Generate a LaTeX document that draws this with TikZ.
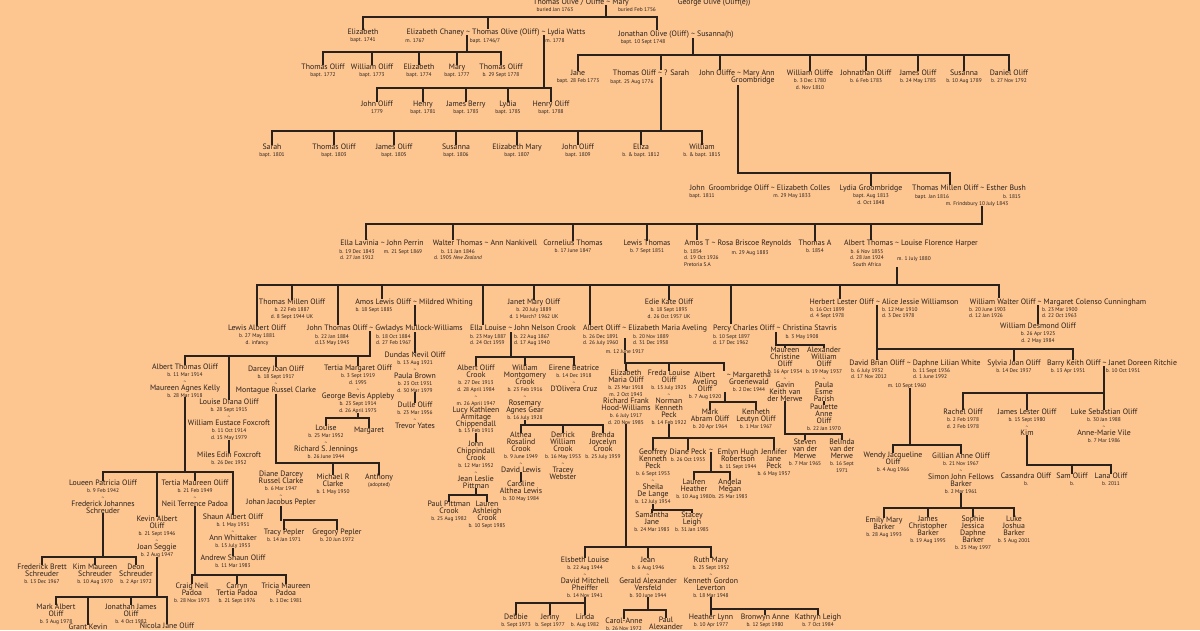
\documentclass[tikz,border=0pt]{standalone}
\usepackage{fontspec}
\setmainfont{PT Sans}
\definecolor{paper}{HTML}{FDC590}
\definecolor{ink}{HTML}{2A211C}
\tikzset{
  ln/.style={draw=ink,line width=1.05pt,line cap=rect},
  nm/.style={anchor=north,yshift=2.9pt,align=center,inner sep=0pt,text=ink,font={\fontsize{7.8}{6.9}\selectfont\lineskiplimit=-5pt}},
  dt/.style={anchor=north,yshift=2pt,align=center,inner sep=0pt,text=ink,font={\fontsize{5.4}{6.7}\selectfont\lineskiplimit=-5pt}},
  dl/.style={dt,anchor=north west,align=left},
}
\newcommand\sm[1]{{\fontsize{5.4}{6}\selectfont #1}}
\newcommand\wed{\textasciitilde}
% parent, bar y, bar left, bar right, children
\newcommand\brood[5]{%
  \draw[ln] (#1) -- (#1 |- 0,#2) (#3 |- 0,#2) -- (#4 |- 0,#2);
  \foreach \c in {#5}{\draw[ln] (\c) -- (\c |- 0,#2);}}
\begin{document}
\begin{tikzpicture}[x=1pt,y=-1pt]
\useasboundingbox (0,0) rectangle (1200,630);
\fill[paper] (0,0) rectangle (1200,630);

% Thomas Olive and Mary
\node[nm] (olive) at (581,2) {Thomas Olive / Oliffe \wed{} Mary};
\node[dt] (oliveb) at (555,9) {buried Jan 1763};
\node[dt] (maryb) at (637,9) {buried Feb 1756};
\node[nm] (george) at (714,2) {George Olive (Oliff(e))};
\coordinate (p0) at (606,6);

\node[nm] (eliz) at (363,32) {Elizabeth\\\sm{bapt. 1741}};
\node[nm] (chaney) at (496,32) {Elizabeth Chaney \wed{} Thomas Olive (Oliff) \wed{} Lydia Watts};
\node[dt] (chaneym) at (415,40) {m. 1767};
\node[dt] (tomb) at (485,40) {bapt. 1746/7};
\node[dt] (wattsm) at (555,40) {m. 1778};
\coordinate (tom) at (488,28);
\node[nm] (jonathan) at (676,34) {Jonathan Olive (Oliff) \wed{} Susanna(h)};
\node[dt] (jonathanb) at (643,41) {bapt. 10 Sept 1748};
\coordinate (jon) at (657,29);
\brood{p0}{17}{eliz}{jon}{eliz,tom,jon}

% with Elizabeth Chaney
\coordinate (pch) at (467,36);
\foreach \x/\who/\when/\id in {323/Thomas Oliff/bapt. 1772/ch1,372/William Oliff/bapt. 1773/ch2,419/Elizabeth/bapt. 1774/ch3,457/Mary/bapt. 1777/ch4,501/Thomas Oliff/b. 29 Sept 1778/ch5}
  \node[nm] (\id) at (\x,67) {\who\\\sm{\when}};
\brood{pch}{52}{ch1}{ch5}{ch1,ch2,ch3,ch4,ch5}

% with Lydia Watts
\coordinate (pwa) at (544,36);
\foreach \x/\who/\when/\id in {377/John Oliff/1779/wa1,423/Henry/bapt. 1781/wa2,466/James Berry/bapt. 1783/wa3,508/Lydia/bapt. 1785/wa4,551/Henry Oliff/bapt. 1788/wa5}
  \node[nm] (\id) at (\x,104) {\who\\\sm{\when}};
\brood{pwa}{88}{wa1}{wa5}{wa1,wa2,wa3,wa4,wa5}

% Jonathan and Susanna(h)
\coordinate (pjo) at (693,39);
\node[nm] (jane) at (578,73) {Jane\\\sm{bapt. 28 Feb 1773}};
\node[nm] (tsarah) at (651,73) {Thomas Oliff \wed{} ? Sarah};
\node[dt] (tsarahb) at (632,81) {bapt. 25 Aug 1776};
\coordinate (tos) at (661,69);
\node[nm,align=right] (joliffe) at (737,73) {John Oliffe \wed{} Mary Ann\\Groombridge};
\coordinate (jol) at (720,69);
\node[nm] (wol) at (810,73) {William Oliffe\\\sm{b. 3 Dec 1780}\\\sm{d. Nov 1810}};
\foreach \x/\who/\when/\id in {866/Johnathan Oliff/b. 6 Feb 1783/jo5,918/James Oliff/b. 24 May 1785/jo6,964/Susanna/b. 10 Aug 1789/jo7,1009/Daniel Oliff/b. 27 Nov 1792/jo8}
  \node[nm] (\id) at (\x,73) {\who\\\sm{\when}};
\brood{pjo}{55}{jane}{jo8}{jane,tos,jol,wol,jo5,jo6,jo7,jo8}

% Thomas and ? Sarah
\coordinate (psa) at (661,78);
\foreach \x/\who/\when/\id in {272/Sarah/bapt. 1801/sa1,334/Thomas Oliff/bapt. 1803/sa2,394/James Oliff/bapt. 1805/sa3,456/Susanna/bapt. 1806/sa4,517/Elizabeth Mary/bapt. 1807/sa5,578/John Oliff/bapt. 1809/sa6,641/Eliza/b. \& bapt. 1812/sa7,702/William/b. \& bapt. 1815/sa8}
  \node[nm] (\id) at (\x,147) {\who\\\sm{\when}};
\brood{psa}{131}{sa1}{sa8}{sa1,sa2,sa3,sa4,sa5,sa6,sa7,sa8}

% John Oliffe and Mary Ann Groombridge
\coordinate (pgr) at (738,86);
\node[nm] (jgo) at (760,188) {John\enspace Groombridge Oliff \wed{} Elizabeth Colles};
\node[dt] (jgob) at (702,195) {bapt. 1811};
\node[dt] (jgom) at (792,195) {m. 29 May 1833};
\node[nm] (lydg) at (871,188) {Lydia Groombridge\\\sm{bapt. Aug 1813}\\\sm{d. Oct 1848}};
\node[nm] (tmon) at (969,188) {Thomas Millen Oliff \wed{} Esther Bush};
\node[dt] (tmob) at (932,196) {bapt. Jan 1816};
\node[dt] (bushb) at (1012,196) {b. 1815};
\node[dt] (tmom) at (977,203) {m. Frindsbury 10 July 1843};
\coordinate (tmi) at (950,184);
\brood{pgr}{173}{pgr}{tmi}{lydg,tmi}

% Thomas Millen and Esther Bush
\coordinate (ptm) at (982,207);
\node[nm] (ellan) at (382,243) {Ella Lavinia \wed{} John Perrin};
\node[dt] (ellab) at (357,251) {b. 19 Dec 1843\\d. 27 Jan 1912};
\node[dt] (ellam) at (403,251) {m. 21 Sept 1869};
\coordinate (ella) at (366,239);
\node[nm] (waltn) at (485,243) {Walter Thomas \wed{} Ann Nankivell};
\node[dt] (waltb) at (458,251) {b. 11 Jan 1846\\d. 1905 \textit{New Zealand}};
\coordinate (walt) at (453,239);
\node[nm] (corn) at (573,243) {Cornelius Thomas\\\sm{b. 17 June 1847}};
\node[nm] (lewis) at (647,243) {Lewis Thomas\\\sm{b. 7 Sept 1851}};
\node[nm] (amosn) at (738,243) {Amos T \wed{} Rosa Briscoe Reynolds};
\node[dl] (amosb) at (684,251) {b. 1854\\d. 19 Oct 1926\\Pretoria S.A};
\node[dt] (amosm) at (750,252) {m. 29 Aug 1883};
\coordinate (amos) at (697,239);
\node[nm] (thoa) at (815,243) {Thomas A\\\sm{b. 1854}};
\node[nm] (albtn) at (911,243) {Albert Thomas \wed{} Louise Florence Harper};
\node[dt] (albtb) at (867,251) {b. 6 Nov 1855\\d. 28 Jan 1924\\South Africa};
\node[dt] (albtm) at (914,258) {m. 1 July 1880};
\coordinate (albt) at (871,239);
\brood{ptm}{224}{ella}{ptm}{ella,walt,corn,lewis,amos,thoa,albt}

% Albert Thomas and Louise Florence Harper
\coordinate (pal) at (897,268);
\node[nm] (lao) at (257,328) {Lewis Albert Oliff\\\sm{b. 27 May 1881}\\\sm{d. infancy}};
\node[nm] (tmo) at (292,302) {Thomas Millen Oliff\\\sm{b. 22 Feb 1887}\\\sm{d. 8 Sept 1944 UK}};
\node[nm] (jton) at (385,328) {John Thomas Oliff \wed{} Gwladys Mullock-Williams};
\node[dl] (jtob) at (315,336) {b. 22 Jan 1884\\d.13 May 1943};
\node[dl] (gwlb) at (376,336) {b. 18 Oct 1884\\d. 27 Feb 1967};
\coordinate (jto) at (338,324);
\node[nm] (alon) at (414,302) {Amos Lewis Oliff \wed{} Mildred Whiting};
\node[dt] (alob) at (374,309) {b. 18 Sept 1885};
\coordinate (alo) at (382,298);
\node[nm] (elon) at (523,328) {Ella Louise \wed{} John Nelson Crook};
\node[dl] (elob) at (470,336) {b. 23 May 1887\\d. 24 Oct 1959};
\node[dl] (jncb) at (514,336) {b. 22 Aug 1867\\d. 17 Aug 1940};
\coordinate (elo) at (483,324);
\node[nm] (jmo) at (534,302) {Janet Mary Oliff\\\sm{b. 20 July 1889}\\\sm{d. 1 March? 1962 UK}};
\node[nm] (aoan) at (645,328) {Albert Oliff \wed{} Elizabeth Maria Aveling};
\node[dl] (aoab) at (583,336) {b. 26 Dec 1891\\d. 26 July 1960};
\node[dl] (emab) at (633,336) {b. 20 Nov 1889\\d. 31 Dec 1958};
\node[dt] (aoam) at (625,351) {m. 12 June 1917};
\coordinate (aoa) at (590,324);
\node[nm] (eko) at (669,302) {Edie Kate Oliff\\\sm{b. 18 Sept 1893}\\\sm{d. 26 Oct 1957 UK}};
\node[nm] (pcon) at (775,328) {Percy Charles Oliff \wed{} Christina Stavris};
\node[dl] (pcob) at (713,336) {b. 10 Sept 1897\\d. 17 Dec 1962};
\node[dt] (csb) at (802,336) {b. 3 May 1908};
\coordinate (pco) at (731,323);
\node[nm] (hlon) at (884,302) {Herbert Lester Oliff \wed{} Alice Jessie Williamson};
\node[dl] (hlob) at (810,309) {b. 16 Oct 1899\\d. 4 Sept 1978};
\node[dl] (ajwb) at (882,309) {b. 12 Mar 1910\\d. 3 Dec 1978};
\coordinate (hlo) at (840,298);
\node[nm] (wwon) at (1058,302) {William Walter Oliff \wed{} Margaret Colenso Cunningham};
\node[dl] (wwob) at (969,309) {b. 20 June 1903\\d. 12 Jan 1926};
\node[dl] (mccb) at (1042,309) {b. 23 Mar 1900\\d. 22 Oct 1963};
\coordinate (wwo) at (999,297);
\brood{pal}{285}{lao}{wwo}{lao,tmo,jto,alo,elo,jmo,aoa,eko,pco,hlo,wwo}

\node[nm] (wdo) at (1038,326) {William Desmond Oliff\\\sm{b. 26 Apr 1925}\\\sm{d. 2 May 1984}};
\coordinate (pww) at (1038,306);
\draw[ln] (pww) -- (wdo);

% John Thomas and Gwladys
\coordinate (pjt) at (370,332);
\node[nm] (albto) at (185,367) {Albert Thomas Oliff\\\sm{b. 11 Mar 1914}\\\sm{\wed}\\Maureen Agnes Kelly\\\sm{b. 28 Mar 1918}};
\node[nm] (louised) at (229,402) {Louise Diana Oliff\\\sm{b. 28 Sept 1915}\\\sm{\wed}\\William Eustace Foxcroft\\\sm{b. 11 Oct 1914}\\\sm{d. 15 May 1979}};
\node[nm] (miles) at (229,455) {Miles Edin Foxcroft\\\sm{b. 26 Dec 1952}};
\draw[ln] (louised) -- (miles);
\node[nm] (darcey) at (276,369) {Darcey Joan Oliff\\\sm{b. 18 Sept 1917}\\\sm{\wed}\\Montague Russel Clarke};
\node[nm] (tertia) at (358,368) {Tertia Margaret Oliff\\\sm{b. 3 Sept 1919}\\\sm{d. 1995}\\\sm{\wed}\\George Bevis Appleby\\\sm{b. 23 Sept 1914}\\\sm{d. 26 April 1975}};
\brood{pjt}{356}{albto}{pjt}{albto,louised,darcey,tertia}

\node[nm] (louisej) at (326,428) {Louise\\\sm{b. 25 Mar 1952}\\\sm{\wed}\\Richard S. Jennings\\\sm{b. 26 June 1944}};
\node[nm] (margt) at (369,430) {Margaret};
\brood{tertia}{418}{louisej}{margt}{louisej,margt}

\node[nm] (diane) at (281,474) {Diane Darcey\\Russel Clarke\\\sm{b. 6 Mar 1947}\\\sm{\wed}\\Johan Jacobus Pepler};
\node[nm] (mich) at (333,477) {Michael R\\Clarke\\\sm{b. 1 May 1950}};
\node[nm] (anth) at (379,477) {Anthony\\\sm{(adopted)}};
\brood{darcey}{463}{darcey}{anth}{mich,anth}
\node[nm] (tracy) at (284,532) {Tracy Pepler\\\sm{b. 14 Jan 1971}};
\node[nm] (greg) at (337,532) {Gregory Pepler\\\sm{b. 20 Jun 1972}};
\brood{diane}{520}{tracy}{greg}{tracy,greg}

% Amos Lewis and Mildred
\coordinate (pam) at (415,306);
\coordinate (pam2) at (415,333);
\node[nm] (dundas) at (415,355) {Dundas Nevil Oliff\\\sm{b. 13 Aug 1921}\\\sm{\wed}\\Paula Brown\\\sm{b. 23 Oct 1931}\\\sm{d. 30 Mar 1979}};
\node[nm] (dulle) at (415,405) {Dulle Oliff\\\sm{b. 23 Mar 1956}\\\sm{\wed}\\Trevor Yates};
\draw[ln] (pam) -- (pam |- jton.north) (pam2) -- (dundas) (dundas) -- (dulle);

% Albert Thomas and Maureen
\node[nm] (loueen) at (103,483) {Loueen Patricia Oliff\\\sm{b. 9 Feb 1942}\\\sm{\wed}\\Frederick Johannes\\Schreuder};
\node[nm] (kevin) at (157,519) {Kevin Albert\\Oliff\\\sm{b. 21 Sept 1946}\\\sm{\wed}\\Joan Seggie\\\sm{b. 2 Aug 1947}};
\node[nm] (tertmo) at (195,483) {Tertia Maureen Oliff\\\sm{b. 21 Feb 1949}\\\sm{\wed}\\Neil Terrence Padoa};
\node[nm] (shaun) at (233,517) {Shaun Albert Oliff\\\sm{b. 1 May 1951}\\\sm{\wed}\\Ann Whittaker\\\sm{b. 15 July 1953}};
\node[nm] (andrew) at (233,558) {Andrew Shaun Oliff\\\sm{b. 11 Mar 1983}};
\draw[ln] (shaun) -- (andrew);
\brood{albto}{472}{loueen}{shaun}{loueen,kevin,tertmo,shaun}

\node[nm] (fredb) at (42,567) {Frederick Brett\\Schreuder\\\sm{b. 13 Dec 1967}};
\node[nm] (kimm) at (95,567) {Kim Maureen\\Schreuder\\\sm{b. 10 Aug 1970}};
\node[nm] (deon) at (136,567) {Deon\\Schreuder\\\sm{b. 2 Apr 1972}};
\brood{loueen}{557}{fredb}{deon}{fredb,kimm,deon}
\node[nm] (craig) at (192,586) {Craig Neil\\Padoa\\\sm{b. 28 Nov 1973}};
\node[nm] (carryn) at (237,586) {Carryn\\Tertia Padoa\\\sm{b. 21 Sept 1976}};
\node[nm] (tricia) at (286,586) {Tricia Maureen\\Padoa\\\sm{b. 1 Dec 1981}};
\brood{tertmo}{575}{craig}{tricia}{craig,carryn,tricia}
\node[nm] (marka) at (56,607) {Mark Albert\\Oliff\\\sm{b. 3 Aug 1978}};
\node[nm] (grant) at (88,627) {Grant Kevin};
\node[nm] (jonj) at (131,607) {Jonathan James\\Oliff\\\sm{b. 4 Oct 1982}};
\node[nm] (nicola) at (167,626) {Nicola Jane Oliff};
\brood{kevin}{597}{marka}{nicola}{marka,grant,jonj,nicola}

% Ella Louise and John Nelson Crook
\coordinate (pec) at (511,333);
\node[nm] (albc) at (476,368) {Albert Oliff\\Crook\\\sm{b. 27 Dec 1913}\\\sm{d. 28 April 1984}\\\sm{\wed}\\\sm{m. 26 April 1947}\\Lucy Kathleen\\Armitage\\Chippendall\\\sm{b. 15 Feb 1913}};
\node[nm] (wmc) at (525,368) {William\\Montgomery\\Crook\\\sm{b. 23 Feb 1916}\\\sm{\wed}\\Rosemary\\Agnes Gear\\\sm{b. 16 July 1928}};
\node[nm] (eirene) at (574,368) {Eirene Beatrice\\\sm{b. 14 Dec 1918}\\\sm{\wed}\\D'Olivera Cruz};
\brood{pec}{357}{albc}{eirene}{albc,wmc,eirene}

\node[nm] (johnc) at (476,444) {John\\Chippindall\\Crook\\\sm{b. 12 Mar 1952}\\\sm{\wed}\\Jean Leslie\\Pittman};
\draw[ln] (albc) -- (johnc);
\node[nm] (paulc) at (449,504) {Paul Pittman\\Crook\\\sm{b. 25 Aug 1982}};
\node[nm] (laurenc) at (487,504) {Lauren\\Ashleigh\\Crook\\\sm{b. 10 Sept 1985}};
\brood{johnc}{495}{paulc}{laurenc}{paulc,laurenc}

\node[nm] (althea) at (521,435) {Althea\\Rosalind\\Crook\\\sm{b. 9 June 1949}\\\sm{\wed}\\David Lewis};
\node[nm] (caroline) at (521,484) {Caroline\\Althea Lewis\\\sm{b. 30 May 1984}};
\draw[ln] (althea) -- (caroline);
\node[nm] (derrick) at (563,435) {Derrick\\William\\Crook\\\sm{b. 16 May 1953}\\\sm{\wed}\\Tracey\\Webster};
\node[nm] (brenda) at (603,435) {Brenda\\Joycelyn\\Crook\\\sm{b. 25 July 1959}};
\brood{wmc}{425}{althea}{brenda}{althea,derrick,brenda}

% Albert Oliff and Elizabeth Maria Aveling
\coordinate (pao) at (625,339);
\draw[ln] (pao) -- (aoam);
\node[nm] (elizm) at (626,373) {Elizabeth\\Maria Oliff\\\sm{b. 23 Mar 1918}\\\sm{m. 2 Oct 1943}\\Richard Frank\\Hood-Williams\\\sm{b. 6 July 1917}\\\sm{d. 20 Nov 1985}};
\node[nm] (freda) at (669,373) {Freda Louise\\Oliff\\\sm{b. 15 July 1925}\\\sm{\wed}\\Norman\\Kenneth\\Peck\\\sm{b. 14 Feb 1922}};
\node[nm] (aavel) at (705,375) {Albert\\Aveling\\Oliff\\\sm{b. 7 Aug 1920}};
\node[nm] (marg) at (749,375) {\wed{} Margaretha\\Groenewald\\\sm{b. 2 Dec 1944}};
\coordinate (aav) at (724,370);
\brood{aoam}{363}{elizm}{aav}{elizm,freda,aav}

\coordinate (pav) at (725,393);
\node[nm] (markab) at (710,412) {Mark\\Abram Oliff\\\sm{b. 20 Apr 1964}};
\node[nm] (kenl) at (756,412) {Kenneth\\Leutyn Oliff\\\sm{b. 1 Mar 1967}};
\brood{pav}{402}{markab}{kenl}{markab,kenl}

\node[nm] (geoff) at (653,452) {Geoffrey\\Kenneth\\Peck\\\sm{b. 6 Sept 1953}\\\sm{\wed}\\Sheila\\De Lange\\\sm{b. 12 July 1954}};
\node[nm] (dpeck) at (688,452) {Diane Peck\\\sm{b. 26 Oct 1955}};
\node[nm] (dpt) at (711,452) {\wed};
\node[nm] (emlyn) at (738,452) {Emlyn Hugh\\Robertson\\\sm{b. 11 Sept 1944}};
\node[nm] (jenn) at (774,452) {Jennifer\\Jane\\Peck\\\sm{b. 6 May 1957}};
\brood{freda}{438}{geoff}{jenn}{geoff,dpeck,jenn}

\node[nm] (saman) at (652,515) {Samantha\\Jane\\\sm{b. 24 Mar 1983}};
\node[nm] (stacey) at (692,515) {Stacey\\Leigh\\\sm{b. 31 Jan 1985}};
\brood{geoff}{510}{saman}{stacey}{saman,stacey}
\node[nm] (laurenh) at (694,482) {Lauren\\Heather\\\sm{b. 10 Aug 1980}};
\node[nm] (angela) at (730,482) {Angela\\Megan\\\sm{b. 25 Mar 1983}};
\brood{dpt}{472}{laurenh}{angela}{laurenh,angela}

\node[nm] (elsb) at (585,560) {Elsbeth Louise\\\sm{b. 22 Aug 1944}\\\sm{\wed}\\David Mitchell\\Pheiffer\\\sm{b. 14 Nov 1941}};
\node[nm] (jeanv) at (648,560) {Jean\\\sm{b. 6 Aug 1946}\\\sm{\wed}\\Gerald Alexander\\Versfeld\\\sm{b. 30 June 1944}};
\node[nm] (ruth) at (711,560) {Ruth Mary\\\sm{b. 25 Sept 1952}\\\sm{\wed}\\Kenneth Gordon\\Leverton\\\sm{b. 18 Mar 1948}};
\brood{elizm}{547}{elsb}{ruth}{elsb,jeanv,ruth}

\foreach \x/\who/\when/\id in {516/Debbie/b. Sept 1973/debbie,550/Jenny/b. Sept 1977/jenny,585/Linda/b. Aug 1982/linda}
  \node[nm] (\id) at (\x,617) {\who\\\sm{\when}};
\brood{elsb}{603}{debbie}{linda}{debbie,jenny,linda}
\node[nm] (carol) at (624,621) {Carol-Anne\\\sm{b. 26 Nov 1972}};
\node[nm] (paulv) at (666,620) {Paul\\Alexander};
\brood{jeanv}{610}{carol}{paulv}{carol,paulv}
\foreach \x/\who/\when/\id in {711/Heather Lynn/b. 10 Apr 1977/heath,765/Bronwyn Anne/b. 12 Sept 1980/bron,818/Kathryn Leigh/b. 7 Oct 1984/kath}
  \node[nm] (\id) at (\x,617) {\who\\\sm{\when}};
\brood{ruth}{609}{heath}{kath}{heath,bron,kath}

% Percy Charles and Christina Stavris
\coordinate (ppc) at (776,333);
\node[nm] (maureen) at (785,350) {Maureen\\Christine\\Oliff\\\sm{b. 16 Apr 1934}\\\sm{\wed}\\Gavin\\Keith van\\der Merwe};
\node[nm] (alex) at (824,350) {Alexander\\William\\Oliff\\\sm{b. 19 May 1937}\\\sm{\wed}\\Paula\\Esme\\Parish};
\brood{ppc}{345}{ppc}{alex}{maureen,alex}
\node[nm] (paulette) at (824,407) {Paulette\\Anne\\Oliff\\\sm{b. 22 Jan 1970}};
\draw[ln] (alex) -- (paulette);
\node[nm] (steven) at (805,442) {Steven\\van der\\Merwe\\\sm{b. 7 Mar 1965}};
\node[nm] (belinda) at (842,442) {Belinda\\van der\\Merwe\\\sm{b. 16 Sept}\\\sm{1971}};
\brood{maureen}{434}{maureen}{belinda}{steven,belinda}

% Herbert Lester and Alice Jessie Williamson
\coordinate (phl) at (877,306);
\node[nm] (david) at (915,363) {David Brian Oliff \wed{} Daphne Lilian White};
\node[dl] (davidb) at (851,370) {b. 6 July 1932\\d. 17 Nov 2012};
\node[dl] (daphb) at (913,370) {b. 11 Sept 1936\\d. 1 June 1992};
\node[dt] (davidm) at (907,385) {m. 10 Sept 1960};
\coordinate (davt) at (877,359);
\node[nm] (sylvia) at (1014,363) {Sylvia Joan Oliff\\\sm{b. 14 Dec 1937}};
\node[nm] (barry) at (1112,363) {Barry Keith Oliff \wed{} Janet Doreen Ritchie};
\node[dt] (barryb) at (1068,370) {b. 13 Apr 1951};
\node[dt] (janetb) at (1123,370) {b. 10 Oct 1951};
\coordinate (bko) at (1073,359);
\brood{phl}{349}{phl}{bko}{davt,sylvia,bko}

\coordinate (pdb) at (910,389);
\node[nm] (wendy) at (893,455) {Wendy Jacqueline\\Oliff\\\sm{b. 4 Aug 1966}};
\node[nm] (gill) at (961,456) {Gillian Anne Oliff\\\sm{b. 21 Nov 1967}\\\sm{\wed}\\Simon John Fellows\\Barker\\\sm{b. 2 Mar 1961}};
\brood{pdb}{445}{wendy}{gill}{wendy,gill}
\node[nm] (emily) at (884,520) {Emily Mary\\Barker\\\sm{b. 28 Aug 1993}};
\node[nm] (jamesb) at (928,519) {James\\Christopher\\Barker\\\sm{b. 19 Aug 1995}};
\node[nm] (sophie) at (973,519) {Sophie\\Jessica\\Daphne\\Barker\\\sm{b. 25 May 1997}};
\node[nm] (lukeb) at (1014,519) {Luke\\Joshua\\Barker\\\sm{b. 5 Aug 2001}};
\brood{gill}{508}{emily}{lukeb}{emily,jamesb,sophie,lukeb}

\coordinate (pbk) at (1104,367);
\node[nm] (rachel) at (963,412) {Rachel Oliff\\\sm{b. 2 Feb 1978}\\\sm{d. 2 Feb 1978}};
\node[nm] (jamesl) at (1027,412) {James Lester Oliff\\\sm{b. 15 Sept 1980}\\\sm{\wed}\\Kim};
\node[nm] (lukes) at (1104,412) {Luke Sebastian Oliff\\\sm{b. 30 Jan 1988}\\\sm{\wed}\\Anne-Marie Vile\\\sm{b. 7 Mar 1986}};
\brood{pbk}{393}{rachel}{pbk}{rachel,jamesl,lukes}
\node[nm] (cass) at (1026,476) {Cassandra Oliff\\\sm{b.}};
\node[nm] (sam) at (1072,476) {Sam Oliff\\\sm{b.}};
\node[nm] (lana) at (1111,476) {Lana Oliff\\\sm{b. 2011}};
\brood{jamesl}{465}{jamesl}{lana}{sam,lana}
\end{tikzpicture}
\end{document}
